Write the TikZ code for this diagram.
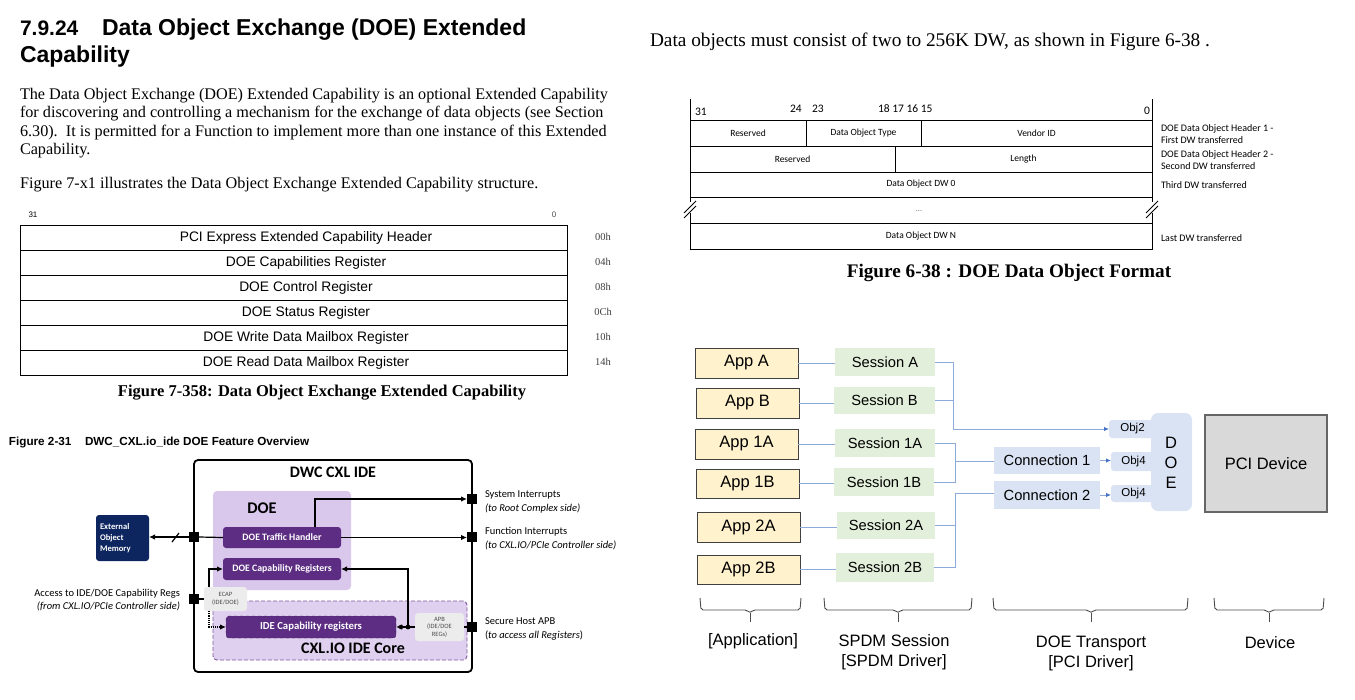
\documentclass[tikz,border=0pt]{standalone}
\usepackage{fontspec}
\setmainfont{Liberation Serif}
\setsansfont{Liberation Sans}
\newfontfamily\calib{Carlito}
\usetikzlibrary{arrows.meta,calc}
\newcommand\fsz[1]{\fontsize{#1}{#1}\selectfont}
\newcommand\bx[7]{\node[#6, minimum width={#4-#2}, minimum height={#5-#3}] (#1) at ({(#2+#4)/2},{(#3+#5)/2}) {#7};}
\definecolor{lnblue}{RGB}{142,170,219}
\definecolor{arblue}{RGB}{68,114,196}
\definecolor{appyel}{RGB}{255,242,204}
\definecolor{sesgrn}{RGB}{226,239,218}
\definecolor{conblue}{RGB}{218,227,243}
\definecolor{devgray}{RGB}{217,217,217}
\definecolor{dpurple}{RGB}{92,45,130}
\definecolor{lpurple}{RGB}{217,199,236}
\definecolor{lpurple2}{RGB}{224,208,240}
\definecolor{navy}{RGB}{14,38,96}
\definecolor{lgray}{RGB}{236,236,236}
\tikzset{
 paraf/.style={anchor=base west, font=\rmfamily\fsz{16.2}},
 headf/.style={anchor=base west, font=\sffamily\bfseries\fsz{23}},
 regrow/.style={draw, line width=0.8, font=\sffamily\fsz{13.8}},
 regtxt/.style={font=\sffamily\fsz{13.8}},
 offs/.style={font=\rmfamily\fsz{10.5}, text=black!75},
 capf/.style={font=\rmfamily\bfseries\fsz{16.5}},
 fmt/.style={draw, line width=0.9, font=\calib\fsz{9.5}},
 fmtlbl/.style={anchor=base west, font=\calib\fsz{10}},
 bitn/.style={anchor=base west, font=\calib\fsz{11.5}},
 app/.style={draw=black!75, fill=appyel, line width=0.9, font=\sffamily\fsz{16.5}},
 ses/.style={fill=sesgrn, font=\sffamily\fsz{14.7}},
 con/.style={fill=conblue, font=\sffamily\fsz{14.7}},
 obj/.style={fill=conblue, rounded corners=3, font=\sffamily\fsz{11.5}},
 bl/.style={draw=lnblue, line width=0.9},
 bla/.style={bl, -{Latex[length=5,width=4.5,color=arblue]}},
 brc/.style={draw=black!70, line width=0.9, rounded corners=2},
 lbl/.style={font=\sffamily\fsz{16.5}, align=center},
 port/.style={fill=black, minimum size=10},
 dk/.style={fill=dpurple, rounded corners=3, text=white, font=\calib\bfseries\fsz{9.8}},
 gbox/.style={fill=lgray, rounded corners=3, font=\calib\fsz{6.5}, text=black!70, align=center},
 sidelbl/.style={anchor=base west, font=\calib\fsz{10.5}},
 arw/.style={-{Latex[length=6,width=5.5]}, line width=1.2},
}
\begin{document}
\begin{tikzpicture}[x=1pt,y=-1pt, every node/.style={inner sep=0, outer sep=0}]
\useasboundingbox (0,0) rectangle (1355,699);
\fill[white] (0,0) rectangle (1355,699);

% ---------------- top-left ----------------
\node[headf, font=\sffamily\bfseries\fsz{21}] (h1) at (20,35) {7.9.24};
\node[headf] (h2) at (102,35) {Data Object Exchange (DOE) Extended};
\node[headf] (h3) at (20,62) {Capability};
\node[paraf] (p1) at (20,99) {The Data Object Exchange (DOE) Extended Capability is an optional Extended Capability};
\node[paraf] (p2) at (20,117) {for discovering and controlling a mechanism for the exchange of data objects (see Section};
\node[paraf] (p3) at (20,136) {6.30).\ \ It is permitted for a Function to implement more than one instance of this Extended};
\node[paraf] (p4) at (20,154) {Capability.};
\node[paraf] (p5) at (20,188) {Figure 7-x1 illustrates the Data Object Exchange Extended Capability structure.};

\node[font=\sffamily\fsz{8}] (t31) at (33,215) {31};
\node[font=\sffamily\fsz{8}, text=black!70] (t0) at (554,215) {0};
\bx{r0}{20}{225}{567}{250}{regrow}{}
\bx{r1}{20}{250}{567}{275}{regrow}{}
\bx{r2}{20}{275}{567}{300}{regrow}{}
\bx{r3}{20}{300}{567}{325}{regrow}{}
\bx{r4}{20}{325}{567}{350}{regrow}{}
\bx{r5}{20}{350}{567}{375}{regrow}{}
\node[regtxt] (r0t) at (306,237.5) {PCI Express Extended Capability Header};
\node[regtxt] (r1t) at (306,262.5) {DOE Capabilities Register};
\node[regtxt] (r2t) at (306,287.5) {DOE Control Register};
\node[regtxt] (r3t) at (306,312.5) {DOE Status Register};
\node[regtxt] (r4t) at (306,337.5) {DOE Write Data Mailbox Register};
\node[regtxt] (r5t) at (306,362.5) {DOE Read Data Mailbox Register};
\node[offs] (o0) at (603,237) {00h};
\node[offs] (o1) at (603,262) {04h};
\node[offs] (o2) at (603,287) {08h};
\node[offs] (o3) at (603,312) {0Ch};
\node[offs] (o4) at (603,337) {10h};
\node[offs] (o5) at (603,362) {14h};
\node[capf] (c1) at (322,393) {Figure 7-358: Data Object Exchange Extended Capability};

% ---------------- bottom-left ----------------
\node[anchor=base west, font=\sffamily\bfseries\fsz{11.7}] (f231) at (9,445) {Figure 2-31};
\node[anchor=base west, font=\sffamily\bfseries\fsz{11.7}] (f231t) at (85,445) {DWC\_CXL.io\_ide DOE Feature Overview};

\bx{dwc}{194}{460}{472}{672}{draw, line width=1.8, rounded corners=4}{}
\node[font=\calib\bfseries\fsz{16}] (dwct) at (333,472) {DWC CXL IDE};
\bx{doebox}{213}{491}{351}{590}{fill=lpurple, rounded corners=4}{}
\node[font=\calib\bfseries\fsz{16.3}] (doet) at (262,508) {DOE};
\bx{core}{213}{601}{467}{660}{fill=lpurple2, draw=dpurple!80, dashed, dash pattern=on 4 off 2, line width=0.9, rounded corners=4}{}
\node[font=\calib\bfseries\fsz{16}] (coret) at (353,648) {CXL.IO IDE Core};
\bx{dth}{223}{527}{341}{548}{dk}{DOE Traffic Handler}
\bx{dcr}{223}{558}{341}{580}{dk}{DOE Capability Registers}
\bx{ide}{226}{616}{396}{638}{dk, draw=dpurple!60!black, dashed, font=\calib\bfseries\fsz{10.7}}{IDE Capability registers}
\bx{ecap}{204}{587}{247}{611}{gbox}{ECAP\\[1pt](IDE/DOE)}
\bx{apb}{415}{613}{464}{641}{gbox}{APB\\[1pt](IDE/DOE\\[1pt]REGs)}
\bx{ext}{96}{515}{149}{561}{fill=navy, rounded corners=3}{}
\node[anchor=west, align=left, text=white, font=\calib\bfseries\fsz{8.6}] (extt) at (100,538) {External\\[2.3pt]Object\\[2.3pt]Memory};

\node[port] (pL1) at (194,537) {};
\node[port] (pL2) at (194,599) {};
\node[port] (pR1) at (472,499) {};
\node[port] (pR2) at (472,537) {};
\node[port] (pR3) at (472,627) {};
\coordinate (dthTop) at (315,527);
\coordinate (jdot) at (408,627);
\coordinate (ecapUp) at (209,587);
\coordinate (ecapDn) at (209,611);

\draw[arw] (pL1.west) -- (pL1.west -| ext.east);
\draw[line width=1.2] (172,542) -- (179,533);
\draw[line width=1.2] (dth.west) -- (pL1.east);
\draw[arw] (dthTop) |- (pR1.west);
\draw[arw] (dth.east) -- (dth.east -| pR2.west);
\draw[line width=1.2] (apb.east) -- (pR3.west);
\draw[line width=1.2] (apb.west) -- (jdot);
\draw[arw] (jdot) -- (jdot -| ide.east);
\draw[arw] (jdot) |- (dcr.east);
\fill (jdot) circle (2.4);
\fill (401,627) circle (2.2);
\draw[line width=1.2] (pL2.east) -- (ecap.west);
\draw[arw] (ecapUp) |- (dcr.west);
\draw[arw, densely dotted] (ecapDn) |- (ide.west);

\node[sidelbl] (s1) at (485,497) {System Interrupts};
\node[sidelbl, font=\calib\itshape\fsz{10.5}] (s1b) at (485,511) {(to Root Complex side)};
\node[sidelbl] (s2) at (485,534) {Function Interrupts};
\node[sidelbl, font=\calib\itshape\fsz{10.5}] (s2b) at (485,548) {(to CXL.IO/PCIe Controller side)};
\node[sidelbl] (s3) at (485,624) {Secure Host APB};
\node[sidelbl] (s3b) at (485,638) {(\textit{to access all Registers})};
\node[anchor=base east, font=\calib\fsz{10.5}] (a1) at (180,596) {Access to IDE/DOE Capability Regs};
\node[anchor=base east, font=\calib\itshape\fsz{10.5}] (a2) at (180,609) {(from CXL.IO/PCIe Controller side)};

% ---------------- top-right ----------------
\node[anchor=base west, font=\rmfamily\fsz{19.3}] (dt) at (650,46) {Data objects must consist of two to 256K DW, as shown in Figure 6-38 .};
\node[bitn] (b31) at (695,115) {31};
\node[bitn] (b24) at (790,112) {24};
\node[bitn] (b23) at (812,112) {23};
\node[bitn] (b18) at (878,112) {18 17 16 15};
\node[bitn] (b0) at (1144,114) {0};
\bx{f1a}{690}{120}{806}{146}{fmt}{Reserved}
\bx{f1b}{806}{120}{921}{146}{fmt}{Data Object Type}
\bx{f1c}{921}{120}{1152}{146}{fmt}{Vendor ID}
\bx{f2a}{690}{146}{895}{172}{fmt}{Reserved}
\bx{f2b}{895}{146}{1152}{172}{fmt}{Length}
\bx{f3}{690}{172}{1152}{197}{fmt}{Data Object DW 0}
\node[font=\calib\fsz{8}, text=black!60] (f4) at (919,211) {...};
\bx{f5}{690}{223}{1152}{249}{fmt}{Data Object DW N}
\draw[line width=0.9] (690,99) -- (f1a.north west);
\draw[line width=0.9] (1152,99) -- (f1c.north east);
\draw[line width=0.9] (f3.south west) -- (690,202);
\draw[line width=0.9] (690,213) -- (f5.north west);
\draw[line width=0.9] (f3.south east) -- (1152,202);
\draw[line width=0.9] (1152,213) -- (f5.north east);
\draw[line width=0.9] (684,213) -- (696,201) (684,218) -- (696,206);
\draw[line width=0.9] (1146,213) -- (1158,201) (1146,218) -- (1158,206);
\node[fmtlbl] (l1) at (1161,131) {DOE Data Object Header 1 -};
\node[fmtlbl] (l1b) at (1161,143) {First DW transferred};
\node[fmtlbl] (l2) at (1161,157) {DOE Data Object Header 2 -};
\node[fmtlbl] (l2b) at (1161,169) {Second DW transferred};
\node[fmtlbl] (l3) at (1161,188) {Third DW transferred};
\node[fmtlbl] (l5) at (1161,241) {Last DW transferred};
\node[capf, font=\rmfamily\bfseries\fsz{19.2}] (c2) at (1009,273) {Figure 6-38 : DOE Data Object Format};

% ---------------- bottom-right ----------------
\bx{appA}{695}{348}{798}{378}{app}{App A}
\bx{appB}{696}{388}{799}{418}{app}{App B}
\bx{app1A}{695}{429}{798}{459}{app}{App 1A}
\bx{app1B}{696}{469}{799}{498}{app}{App 1B}
\bx{app2A}{697}{512}{800}{542}{app}{App 2A}
\bx{app2B}{697}{555}{800}{584}{app}{App 2B}
\bx{sesA}{835}{348}{935}{376}{ses}{Session A}
\bx{sesB}{834}{387}{935}{414}{ses}{Session B}
\bx{ses1A}{835}{429}{935}{457}{ses}{Session 1A}
\bx{ses1B}{834}{468}{934}{496}{ses}{Session 1B}
\bx{ses2A}{837}{512}{935}{539}{ses}{Session 2A}
\bx{ses2B}{836}{553}{934}{582}{ses}{Session 2B}
\bx{con1}{994}{447}{1100}{474}{con}{Connection 1}
\bx{con2}{994}{481}{1100}{509}{con}{Connection 2}
\bx{ob2}{1109}{420}{1156}{438}{obj}{Obj2}
\bx{ob41}{1111}{452}{1156}{471}{obj}{Obj4}
\bx{ob42}{1111}{485}{1156}{502}{obj}{Obj4}
\bx{doe}{1151}{413}{1192}{511}{fill=conblue, rounded corners=7}{}
\node[font=\sffamily\fsz{16.5}] (dD) at (1171,443) {D};
\node[font=\sffamily\fsz{16.5}] (dO) at (1171,463) {O};
\node[font=\sffamily\fsz{16.5}] (dE) at (1171,483) {E};
\bx{pci}{1205}{415}{1327}{512}{draw=black!60, fill=devgray, line width=1.1, font=\sffamily\fsz{16.5}}{PCI Device}

\foreach \a/\s in {appA/sesA, appB/sesB, app1A/ses1A, app1B/ses1B, app2A/ses2A, app2B/ses2B}
  \draw[bl] (\a.east) -- (\a.east -| \s.west);
\coordinate (jA) at (953,429);
\coordinate (j1) at (955,461);
\coordinate (j2) at (955,493);
\draw[bl] (sesA.east) -| (jA);
\draw[bl] (sesB.east) -| (jA);
\draw[bla] (jA) -- (jA -| ob2.west);
\draw[bl] (ses1A.east) -| (j1);
\draw[bl] (ses1B.east) -| (j1);
\draw[bl] (j1) -- (j1 -| con1.west);
\draw[bl] (ses2A.east) -| (j2);
\draw[bl] (ses2B.east) -| (j2);
\draw[bl] (j2) -- (j2 -| con2.west);
\draw[bla] (con1.east) -- (con1.east -| ob41.west);
\draw[bla] (con2.east) -- (con2.east -| ob42.west);

\draw[brc] (700,598) -- (701,610) -- (747,610) -- (750,613) -- (753,610) -- (800,610) -- (801,598);
\draw[brc] (750,613) -- (750,622);
\draw[brc] (824,598) -- (825,610) -- (895,610) -- (898,613) -- (901,610) -- (971,610) -- (972,598);
\draw[brc] (898,613) -- (898,622);
\draw[brc] (993,598) -- (994,610) -- (1088,610) -- (1091,613) -- (1094,610) -- (1187,610) -- (1188,598);
\draw[brc] (1091,613) -- (1091,622);
\draw[brc] (1214,598) -- (1215,610) -- (1266,610) -- (1269,613) -- (1272,610) -- (1323,610) -- (1324,598);
\draw[brc] (1269,613) -- (1269,622);
\node[lbl] (la) at (753,641) {[Application]};
\node[lbl] (ls1) at (894,641) {SPDM Session};
\node[lbl] (ls2) at (894,662) {[SPDM Driver]};
\node[lbl] (lt1) at (1091,643) {DOE Transport};
\node[lbl] (lt2) at (1091,663) {[PCI Driver]};
\node[lbl] (ld) at (1270,643) {Device};
\end{tikzpicture}
\end{document}
